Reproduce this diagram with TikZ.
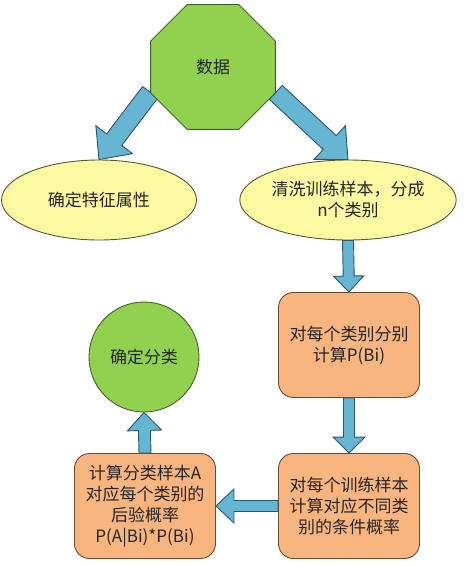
\documentclass[tikz,border=0pt]{standalone}
\usepackage{fontspec}
\setmainfont{Noto Sans CJK SC}
\usetikzlibrary{shapes.geometric,calc,backgrounds}
\definecolor{leaf}{HTML}{92D050}
\definecolor{leafdark}{HTML}{3F6426}
\definecolor{lemon}{HTML}{FCF9A2}
\definecolor{lemondark}{HTML}{55553A}
\definecolor{peach}{HTML}{F9B57F}
\definecolor{peachdark}{HTML}{6E4A32}
\definecolor{sky}{HTML}{66B6D3}
\definecolor{skydark}{HTML}{2E5468}
\tikzset{gbox/.style={
    draw,
    line width=0.9pt,
    text=black!85,
    align=center,
    inner sep=0pt,
    font=\fontsize{17}{21}\selectfont
  },
  octbox/.style={gbox,regular polygon,regular polygon sides=8,
    minimum size=135pt,fill=leaf,draw=leafdark},
  ellbox/.style={gbox,ellipse,minimum height=80pt,fill=lemon,draw=lemondark},
  rbox/.style={gbox,rectangle,rounded corners=15pt,minimum width=141pt,
    minimum height=105pt,fill=peach,draw=peachdark},
  endbox/.style={gbox,circle,minimum size=110pt,fill=leaf,draw=leafdark},
  barrow/.style={fill=sky,draw=skydark,line width=0.9pt,line join=miter},
}
% block arrow: from, to, half shaft, half head, head length
\newcommand{\blockarrow}[5]{%
  \coordinate (ab) at ($(#2)!#5!(#1)$);
  \draw[barrow] ($(#1)!#3!90:(#2)$) -- ($(ab)!#3!-90:(#1)$)
    -- ($(ab)!#4!-90:(#1)$) -- (#2) -- ($(ab)!#4!90:(#1)$)
    -- ($(ab)!#3!90:(#1)$) -- ($(#1)!#3!-90:(#2)$) -- cycle;
}

\begin{document}
\begin{tikzpicture}[x=1pt,y=-1pt]
  \useasboundingbox (0,0) rectangle (474,566);
  \node [octbox] (data) at (213,67) {数据};
  \node [ellbox,minimum width=195pt] (feat) at (99,200) {确定特征属性};
  \node [ellbox,minimum width=201pt] (clean) at (348,200)
    {清洗训练样本，分成\\n个类别};
  \node [rbox] (pbi) at (349,345) {对每个类别分别\\计算P(Bi)};
  \node [rbox] (cond) at (349,506) {对每个训练样本\\计算对应不同类\\别的条件概率};
  \node [rbox] (post) at (145,506)
    {计算分类样本A\\对应每个类别的\\后验概率\\P(A|Bi)*P(Bi)};
  \node [endbox] (result) at (144,357) {确定分类};
  \begin{scope}[on background layer]
    \blockarrow{data.202.5}{feat.north}{9.5pt}{23pt}{25pt}
    \blockarrow{data.-22.5}{clean.north}{9.5pt}{23pt}{25pt}
    \blockarrow{clean.south}{pbi.north}{5.5pt}{15pt}{16pt}
    \blockarrow{pbi.south}{cond.north}{5.5pt}{16pt}{16pt}
    \blockarrow{cond.west}{post.east}{5.5pt}{17pt}{18pt}
    \blockarrow{post.north}{result.south}{6pt}{17pt}{18pt}
  \end{scope}
\end{tikzpicture}
\end{document}
